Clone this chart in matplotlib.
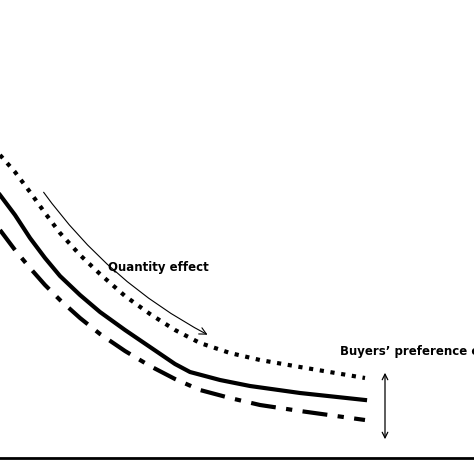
import matplotlib.pyplot as plt
from matplotlib.patches import FancyArrowPatch

x_dot = [0, 15, 30, 45, 60, 80, 100, 125, 150, 175, 200, 230, 260, 300, 365]
y_dot = [155, 172, 192, 213, 233, 255, 274, 296, 314, 330, 343, 353, 360, 367, 378]
x_sol = [0, 15, 30, 45, 60, 80, 100, 125, 150, 175, 190, 220, 250, 300, 365]
y_sol = [195, 215, 238, 258, 276, 295, 312, 330, 347, 364, 372, 380, 386, 393, 400]
x_dd = [0, 15, 30, 45, 60, 80, 100, 125, 150, 175, 200, 230, 260, 300, 365]
y_dd = [230, 250, 268, 285, 300, 318, 334, 351, 366, 379, 390, 398, 405, 411, 420]

fig = plt.figure(figsize=(4.74, 4.74), dpi=100)
ax = fig.add_axes([0, 0, 1, 1])
ax.set_xlim(0, 474)
ax.set_ylim(474, 0)
ax.axis('off')

ax.plot(x_dot, y_dot, color='black', lw=3, linestyle=(0, (1, 1.6)))
ax.plot(x_sol, y_sol, color='black', lw=3)
ax.plot(x_dd, y_dd, color='black', lw=3, linestyle=(0, (6, 2.5, 1.5, 2.5)))
ax.plot([0, 474], [458, 458], color='black', lw=2)

arr = FancyArrowPatch((42, 190), (210, 336), connectionstyle='arc3,rad=0.12',
                      arrowstyle='->,head_length=5,head_width=2.5', color='black', lw=0.8)
ax.add_patch(arr)
ax.text(108, 268, 'Quantity effect', fontsize=8.5, fontweight='bold', va='center')
ax.annotate('', xy=(385, 370), xytext=(385, 442),
            arrowprops=dict(arrowstyle='<->', lw=0.9, color='black'))
ax.text(340, 351, 'Buyers\u2019 preference effect', fontsize=8.5, fontweight='bold', va='center', clip_on=True)

fig.savefig('out.png', dpi=100)
